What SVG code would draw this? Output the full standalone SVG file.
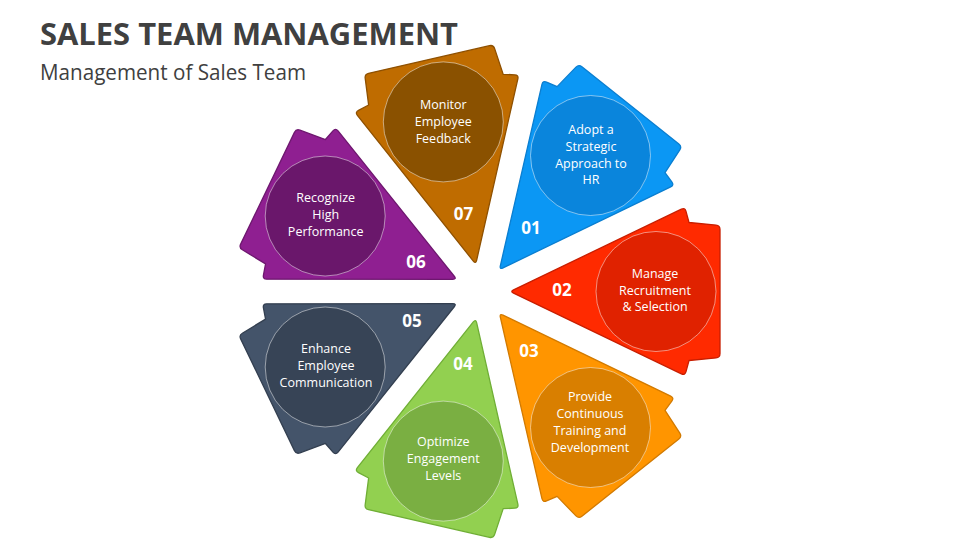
<svg xmlns="http://www.w3.org/2000/svg" width="960" height="540" viewBox="0 0 960 540">
<defs>
<path id="wedge" d="M31.6,-1.7 L199.4,-82.3 Q203,-84 204,-80.1 L207,-69 L234,-66.4 Q238,-66 238,-62 L238,62 Q238,66 234,66.4 L207,69 L204,80.1 Q203,84 199.4,82.3 L31.6,1.7 Q28,0 31.6,-1.7 Z"/>
</defs>
<style>
.w{stroke-width:1.3;stroke-linejoin:round}
.c{stroke:#ffffff;stroke-opacity:0.55;stroke-width:0.9}
.t{font-family:"Open Sans","Liberation Sans",sans-serif;font-size:12.5px;fill:#ffffff;text-anchor:middle}
.n{font-family:"Open Sans","Liberation Sans",sans-serif;font-size:17px;font-weight:bold;fill:#ffffff;text-anchor:middle}
.title{font-family:"Open Sans","Liberation Sans",sans-serif;font-size:31px;font-weight:bold;fill:#404040}
.sub{font-family:"Open Sans","Liberation Sans",sans-serif;font-size:21px;fill:#404040}
</style>
<rect width="960" height="540" fill="#ffffff"/>
<text class="title" x="40" y="45" textLength="418" lengthAdjust="spacingAndGlyphs">SALES TEAM MANAGEMENT</text>
<text class="sub" x="40" y="80" textLength="266" lengthAdjust="spacingAndGlyphs">Management of Sales Team</text>
<g id="connectors"></g>
<g id="node01">
<use href="#wedge" class="w" fill="#0B97F4" stroke="#0A7ED0" transform="translate(482,291.5) rotate(-51.43)"/>
<circle class="c" cx="590.5" cy="155.5" r="60" fill="#0A85DC"/>
<text class="t" x="591"><tspan x="591" y="133.5">Adopt a</tspan><tspan x="591" y="150.5">Strategic</tspan><tspan x="591" y="167.5">Approach to</tspan><tspan x="591" y="184">HR</tspan></text>
<text class="n" x="531" y="233.5">01</text>
</g>
<g id="node02">
<use href="#wedge" class="w" fill="#FF2A00" stroke="#C81E00" transform="translate(482,291.5)"/>
<circle class="c" cx="656" cy="291.5" r="60" fill="#E02200"/>
<text class="t"><tspan x="655" y="278">Manage</tspan><tspan x="655" y="294.5">Recruitment</tspan><tspan x="655" y="311">&amp; Selection</tspan></text>
<text class="n" x="562" y="296">02</text>
</g>
<g id="node03">
<use href="#wedge" class="w" fill="#FF9500" stroke="#D27A00" transform="translate(482,291.5) rotate(51.43)"/>
<circle class="c" cx="590.5" cy="427.5" r="60" fill="#D97F00"/>
<text class="t"><tspan x="590" y="401">Provide</tspan><tspan x="590" y="418">Continuous</tspan><tspan x="590" y="435">Training and</tspan><tspan x="590" y="452">Development</tspan></text>
<text class="n" x="529" y="357">03</text>
</g>
<g id="node04">
<use href="#wedge" class="w" fill="#92D050" stroke="#6FAE35" transform="translate(482,291.5) rotate(102.86)"/>
<circle class="c" cx="443.3" cy="461.1" r="60" fill="#7AAF42"/>
<text class="t"><tspan x="443.3" y="446">Optimize</tspan><tspan x="443.3" y="463">Engagement</tspan><tspan x="443.3" y="479.5">Levels</tspan></text>
<text class="n" x="463" y="370">04</text>
</g>
<g id="node05">
<use href="#wedge" class="w" fill="#44546A" stroke="#333F50" transform="translate(482,291.5) rotate(154.29)"/>
<circle class="c" cx="325.2" cy="367" r="60" fill="#374456"/>
<text class="t"><tspan x="326" y="353">Enhance</tspan><tspan x="326" y="370">Employee</tspan><tspan x="326" y="387">Communication</tspan></text>
<text class="n" x="412" y="326.5">05</text>
</g>
<g id="node06">
<use href="#wedge" class="w" fill="#8F1F91" stroke="#6E176F" transform="translate(482,291.5) rotate(205.71)"/>
<circle class="c" cx="325.2" cy="216" r="60" fill="#6A176B"/>
<text class="t"><tspan x="325.7" y="202">Recognize</tspan><tspan x="325.7" y="219">High</tspan><tspan x="325.7" y="235.5">Performance</tspan></text>
<text class="n" x="416" y="268.3">06</text>
</g>
<g id="node07">
<use href="#wedge" class="w" fill="#BF6C00" stroke="#8E5000" transform="translate(482,291.5) rotate(257.14)"/>
<circle class="c" cx="443.3" cy="121.9" r="60" fill="#8A5100"/>
<text class="t"><tspan x="443.3" y="108.5">Monitor</tspan><tspan x="443.3" y="126">Employee</tspan><tspan x="443.3" y="142.5">Feedback</tspan></text>
<text class="n" x="463.5" y="220">07</text>
</g>
</svg>
